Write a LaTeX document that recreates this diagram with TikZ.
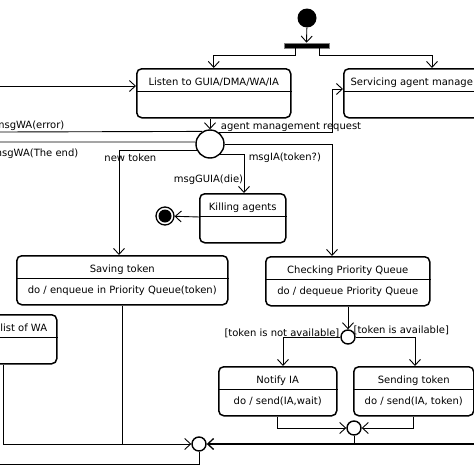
\documentclass[tikz,border=0pt]{standalone}
\usepackage{fontspec}
\setmainfont{DejaVu Sans}
\usepackage{tikz}
\usetikzlibrary{arrows.meta}
\usetikzlibrary{positioning}
\usetikzlibrary{shapes,fit}
\newcommand{\titlestrut}{\rule[-5pt]{0pt}{21pt}}
\newcommand{\bodystrut}{\rule[-10.5pt]{0pt}{25pt}}
\tikzset{
    state/.style={
           rectangle split,
           rectangle split parts=2,
           rectangle split draw splits=false,
           rounded corners=5pt,
           draw=black, line width=1.5pt,
           inner xsep=3pt, inner ysep=0pt,
           anchor=north west,
           },
    choice/.style={
           circle,
           draw=black, line width=1.4pt,
           inner sep=0pt,
           },
    start/.style={
           circle,
           fill=black,
           minimum size=19,
           inner sep=0pt,
           },
    final/.style={
           circle,
           draw=black, line width=1.3pt,
           minimum size=18,
           inner sep=0pt,
           path picture={\fill[black] (path picture bounding box.center) circle (6.5pt);},
           },
    bar/.style={
           rectangle,
           fill=black, draw=gray, line width=0.6pt,
           minimum width=45, minimum height=5,
           inner sep=0pt,
           },
}
\begin{document}
\begin{tikzpicture}
[
x=1pt, y=-1pt,
>={Straight Barb[length=6pt,width=11pt]},
line width=0.9pt,
font=\fontsize{10}{12}\selectfont
]

\useasboundingbox (0,0) rectangle (474,474);
\fill[white] (0,0) rectangle (474,474);
\clip (0,0) rectangle (474,474);

 % start and fork
 \node[start] (INIT) at (307,18) {};
 \node[bar] (FORK) at (306.5,45.5) {};

 % STATE LISTEN
 \node[state,
 minimum width=154] (LISTEN) at (136,68)
 {\titlestrut Listen to GUIA/DMA/WA/IA\nodepart{two}\bodystrut};

 % STATE SERVICING
 \node[state,
 minimum width=136] (SERV) at (343,68)
 {\titlestrut Servicing agent manage\nodepart{two}\bodystrut};

 % first choice point
 \node[choice, minimum size=28] (DEC1) at (210,144) {};

 % STATE KILLING
 \node[state,
 minimum width=86] (KILL) at (199,193)
 {\titlestrut Killing agents\nodepart{two}\bodystrut};
 \node[final] (FINAL) at (165,216) {};

 % STATE SAVING
 \node[state,
 minimum width=211] (SAVE) at (16,255)
 {\titlestrut Saving token\nodepart{two}\bodystrut do / enqueue in Priority Queue(token)};

 % STATE CHECKING
 \node[state,
 minimum width=164] (CHECK) at (265,256)
 {\titlestrut Checking Priority Queue\nodepart{two}\bodystrut do / dequeue Priority Queue};

 \node[choice, minimum size=14] (DEC2) at (348,337) {};

 % STATE NOTIFY / SENDING
 \node[state,
 minimum width=118] (NOTIFY) at (218,366)
 {\titlestrut Notify IA\nodepart{two}\bodystrut do / send(IA,wait)};
 \node[state,
 minimum width=120] (SEND) at (353,366)
 {\titlestrut Sending token\nodepart{two}\bodystrut do / send(IA, token)};

 \node[choice, minimum size=14] (JOIN1) at (354,428) {};
 \node[choice, minimum size=14] (JOIN2) at (199,444) {};

 % STATE LIST (cut at the left)
 \node[state,
 minimum width=66] (WALIST) at (-10,314)
 {\titlestrut list of WA\nodepart{two}\bodystrut};

 % compartment lines
 \draw[line width=0.6pt]
 (LISTEN.text split west) -- (LISTEN.text split east)
 (SERV.text split west) -- (SERV.text split east)
 (KILL.text split west) -- (KILL.text split east)
 (SAVE.text split west) -- (SAVE.text split east)
 (CHECK.text split west) -- (CHECK.text split east)
 (NOTIFY.text split west) -- (NOTIFY.text split east)
 (SEND.text split west) -- (SEND.text split east)
 (WALIST.text split west) -- (WALIST.text split east);

 % loose ends at the border
 \coordinate (FROMLEFT) at (0,86);
 \coordinate (ERRLEFT) at (0,132);
 \coordinate (ENDLEFT) at (0,142);
 \coordinate (FROMRIGHT) at (474,444);
 \coordinate (TOLEFT) at (0,464);

 % transitions
 \draw[->] (INIT) -- (FORK);
 \draw[->] ([xshift=-11.5]FORK.south) -- ++(0,7) -| (LISTEN.north);
 \draw[->] ([xshift=12.5]FORK.south) -- ++(0,7) -| ([xshift=89]SERV.north west);
 \draw[->] (FROMLEFT) -- (FROMLEFT -| LISTEN.west);
 \draw[->] (LISTEN.south -| DEC1) -- (DEC1);
 \draw[->] (DEC1.50) -- ++(113,0)
  node[pos=0, anchor=south west, inner sep=1pt] {agent management request}
  |- ([yshift=-21]SERV.north west);
 \draw[->] (DEC1.east) -| ([xshift=67]CHECK.north west)
  node[pos=0.11, anchor=base west, yshift=-16.5, inner sep=0pt] {msgIA(token?)};
 \draw[->] (DEC1.-45) -| ([xshift=45]KILL.north west)
  node[pos=0.83, anchor=east, inner sep=0.5pt] {msgGUIA(die)};
 \draw[->] (KILL) -- (FINAL);
 \draw[->] (DEC1.205) -| ([xshift=103]SAVE.north west)
  node[pos=0.5, anchor=north west, xshift=-16, yshift=-2, inner sep=1pt] {new token};
 \draw (DEC1.121) -- (ERRLEFT)
  node[pos=0.675, anchor=south east, inner sep=1pt] {msgWA(error)};
 \draw (DEC1.172) -- (ENDLEFT)
  node[pos=0.592, anchor=north east, yshift=-5, inner sep=1pt] {msgWA(The end)};
 \draw (SAVE.south) -- (SAVE.south |- JOIN2);
 \draw[->] (CHECK.south -| DEC2) -- (DEC2);
 \draw[->] (DEC2.west) -| ([xshift=65]NOTIFY.north west)
  node[pos=0, anchor=base east, yshift=1, inner sep=0.5pt] {[token is not available]};
 \draw[->] (DEC2.east) -| ([xshift=62]SEND.north west)
  node[pos=0, anchor=base west, xshift=-3, yshift=4, inner sep=0.5pt] {[token is available]};
 \draw[->] (NOTIFY.south) |- (JOIN1);
 \draw[->] (SEND.south) |- (JOIN1);
 \draw (JOIN1) -- (JOIN1 |- JOIN2);
 \draw[->, line width=1.3pt] (FROMRIGHT) -- (JOIN2);
 \draw[->] ([xshift=13]WALIST.south west) |- (JOIN2);
 \draw (JOIN2) |- (TOLEFT);

\end{tikzpicture}
\end{document}
